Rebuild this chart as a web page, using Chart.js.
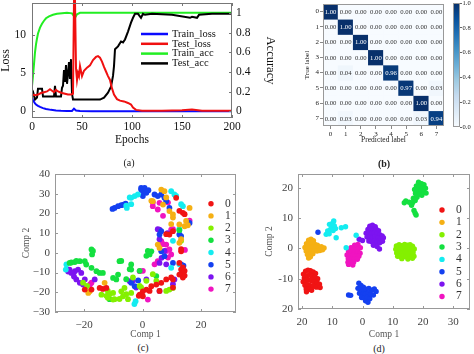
<!DOCTYPE html>
<html>
<head>
<meta charset="utf-8">
<script src="https://cdn.jsdelivr.net/npm/chart.js@4.4.1/dist/chart.umd.min.js"></script>
<style>
  html, body { margin: 0; padding: 0; background: #fff; }
  #wrap { position: relative; width: 474px; height: 354px; overflow: hidden; }
  canvas { position: absolute; }
  .cap { position: absolute; font: 10px "Liberation Serif", serif; color: #222; transform: translate(-50%, -50%); white-space: nowrap; }
</style>
</head>
<body>
<div id="wrap">
  <canvas id="lossChart" width="290" height="150" style="left:0px;top:0px"></canvas>
  <canvas id="cmChart" width="152" height="150" style="left:296px;top:0px"></canvas>
  <canvas id="cbChart" width="26" height="135" style="left:448px;top:0px"></canvas>
  <canvas id="tsneC" width="240" height="175" style="left:0px;top:165px"></canvas>
  <canvas id="tsneD" width="234" height="175" style="left:240px;top:165px"></canvas>
  <div class="cap" style="left:129px;top:162px">(a)</div>
  <div class="cap" style="left:384px;top:163px;font-weight:bold">(b)</div>
  <div class="cap" style="left:143px;top:347px">(c)</div>
  <div class="cap" style="left:379px;top:348px">(d)</div>
</div>
<script>
// ---- (a) training curves ----
const trainLossEp = [0,1,2,3,4,6,8,11,14,19,24,29,35,40,42,44,48,60,100,150,200];
const trainLoss   = [1.8,1.5,1.25,1.05,0.9,0.72,0.58,0.43,0.32,0.2,0.13,0.09,0.06,0.05,0.35,0.12,0.05,0.03,0.02,0.02,0.02];
const testLossEp  = [0,3,6,9,12,15,18,20,22,24,26,28,30,33,36,39,41,42,43,44,45,46,47,48,50,52,55,58,61,64,66,68,70,72,74,76,78,80,82,85,88,92,96,99,101,104,110,130,150,160,170,200];
const testLoss    = [2.2,2.1,2.2,2.4,2.5,2.6,2.9,2.7,2.5,2.8,2.6,2.5,2.4,2.3,2.2,2.2,2.3,14.5,14.5,5.6,4.1,5.0,4.6,5.9,4.6,5.3,5.7,6.0,6.7,7.1,7.2,7.0,6.5,5.8,5.2,4.6,4.1,3.0,2.2,1.6,1.4,1.3,1.1,0.9,0.5,0.2,0.1,0.1,0.15,0.25,0.1,0.1];
const trainAccEp  = [0,1,2,3,4,5,6,8,10,12,14,17,21,25,30,35,40,42,43,45,48,60,100,150,200];
const trainAcc    = [0.26,0.36,0.48,0.6,0.68,0.74,0.79,0.85,0.89,0.92,0.945,0.965,0.98,0.99,0.995,1.0,0.995,0.965,0.95,0.985,1.0,1.0,1.0,1.0,1.0];
const testAccEp   = [0,1,3,5,6,10,11,13,22,23,24,25,29,30,31,32,33,34,35,36,37,38,39,40,41,42,68,72,76,79,81,82,83,86,89,91,93,96,99,101,103,106,109,111,113,120,140,158,160,165,167,180,200];
const testAcc     = [0.22,0.2,0.12,0.14,0.23,0.23,0.15,0.15,0.15,0.26,0.15,0.15,0.15,0.24,0.26,0.42,0.3,0.47,0.28,0.38,0.5,0.33,0.53,0.18,0.12,0.12,0.12,0.14,0.19,0.25,0.36,0.46,0.63,0.66,0.71,0.7,0.73,0.81,0.9,0.95,0.99,0.99,0.95,0.99,0.98,0.99,0.98,0.95,0.96,0.95,0.98,0.99,0.99];
const epochTicks  = [0,50,100,150,200];
const lossTicks   = [0,5,10];
const accTicks    = [0,0.2,0.4,0.6,0.8,1];

// ---- (b) confusion matrix ----
const predLabels = ['0','1','2','3','4','5','6','7'];
const trueLabels = ['0','1','2','3','4','5','6','7'];
const cmRow0 = [1.00,0,0,0,0,0,0,0];
const cmRow1 = [0,1.00,0,0,0,0,0,0];
const cmRow2 = [0,0,1.00,0,0,0,0,0];
const cmRow3 = [0,0,0,1.00,0,0,0,0];
const cmRow4 = [0,0.04,0,0,0.96,0,0,0];
const cmRow5 = [0,0,0,0,0,0.97,0,0.03];
const cmRow6 = [0,0,0,0,0,0,1.00,0];
const cmRow7 = [0,0.03,0,0,0,0,0.03,0.94];
const colorbarTicks = [0,0.2,0.4,0.6,0.8,1.0];

// ---- (c) / (d) feature embeddings ----
const classLabels = ['0','1','2','3','4','5','6','7'];
const classColors = ['#f01414','#f5b014','#84f000','#14e040','#14ecf0','#1440f0','#7c14f0','#f014c0'];

const tsneC0 = [[11.5,27.9],[13.8,20.3],[12.6,21.3],[14.4,19.6],[9.2,9.3],[10.4,11],[8.1,9.5],[13.2,0.8],[13.2,1.9],[12.6,-5.1],[13.2,-8.5],[13.8,-10.2],[12.6,-11],[14.4,-9.1],[13.8,-7.4],[13.8,-12.5],[10.4,-13.5],[8.1,-13.5],[6.4,-15.2],[4.7,-16.1],[3,-16.9],[1.3,-18.6],[0.1,-19.5],[-1,-21.2],[0.1,-22],[-1.3,-21.8],[2.4,-19.3],[10.4,-17.6],[5.8,-19.3],[-14.7,-17.8],[-13.6,-18.3],[-12.4,-17.8],[-19.8,-18.6],[-17.5,-18.6],[9.8,-12.5],[14.4,-11.5]];
const tsneC1 = [[6.4,32.1],[7.5,31.3],[3.5,26.2],[7,24.5],[9.2,21.2],[10.4,19.5],[12.6,14.4],[14.4,13.5],[16.1,22.8],[12.6,5.1],[5.2,4.2],[5.8,2.5],[8.1,28.1],[9.8,14.6],[14.9,16.2],[10.4,17.9],[13.2,6.9],[-13,-15.2],[-18.1,-19.5],[-18.6,-20.3],[15.5,14],[3,26.4]];
const tsneC2 = [[-14.1,-21.2],[-11.9,-22.8],[-10.1,-23.7],[-7.9,-23.4],[-6.7,-22],[-7.3,-19.5],[-6.2,-17.8],[-10.1,-20.3],[-3.9,-20.3],[-12.4,-21.8],[-11.3,-21],[-9.6,-23.5],[-5,-23.5],[-3.3,-12.5],[-1,-16.8],[1.3,-14.2],[3.5,-10.8],[4.7,-14.2],[8.1,-19.3],[9.2,-18.6],[10.4,-17.8],[13.2,6.1],[-20.4,-15.1],[-5.6,-21],[-11.9,-19.3],[-19,-16.8],[-0.5,-17.5]];
const tsneC3 = [[-17.5,1.7],[-17.3,-0.8],[-17,1],[-25,-5.1],[-23.2,-4.7],[-21.5,-4.2],[-19.8,-4.2],[-19.3,-5.9],[-17.5,-7.6],[-15.8,-9.3],[-14.7,-10.2],[-13.6,-10.2],[-7.9,-4.2],[-7.3,-4.1],[-3.9,-5.9],[-3.9,-8.5],[-10.1,-12.7],[-9,-13.5],[-8.4,-11],[-4.4,-8.3],[1.8,1],[1.3,-1.5],[2.4,-0.8],[3,0.8],[-1,-9.1],[-5.6,-13.4],[4.7,-11.8],[-11.3,-23.5],[-22.7,-4.1],[-24.4,-4.9],[12.6,11.5]];
const tsneC4 = [[-5.4,22.8],[-3.9,27.9],[-2.7,28.8],[-1.6,29.6],[-4.4,28.1],[-5.6,23.9],[-3.9,24.7],[9.8,31.3],[10.9,29.6],[13.8,23.7],[13.2,24.7],[10.4,6.1],[9.8,-7.6],[12.6,12],[-26.1,-5.9],[-26.3,-8.5],[-2.4,-24.5],[-2.8,-26],[12.6,-5.8],[11.5,28.9]];
const tsneC5 = [[-9.6,22.8],[-8.4,23.7],[-7.3,24.2],[-6.5,24.5],[-5.8,25],[-10.3,22.3],[-0.5,33],[0.1,31.3],[-0.5,32.1],[0.7,33],[1.3,30.5],[0.1,28.8],[4.1,29.6],[5.2,28.8],[6.4,29.6],[7.5,27.9],[8.1,26.2],[9.2,22.8],[6.4,11],[5.8,9.3],[12.6,9.3],[13.2,8.5],[16.1,15.2],[10.4,-5.1],[13.2,-5.9],[6.4,0.8],[7.5,-1.7],[-3.9,-15.2],[-2.7,-16.9],[-1.5,-14],[14,-6.5],[2,31.8]];
const tsneC6 = [[-25,-8.5],[-23.2,-9.3],[-22.1,-8.5],[-21,-10.2],[-24.4,-10.2],[-22.7,-13.5],[-21.5,-15.2],[-20.4,-16.1],[-19.8,-13.5],[-16.4,-13.5],[-23.5,-12],[-25.5,-9.5],[-3.3,-14.2],[-2.2,-17.6],[-4.4,-14.4],[5.8,11.8],[5.2,12],[5.8,6.9],[5.8,-5.1],[7.5,1],[8.1,-5.8],[10.9,-13.5],[5.8,-19.3],[1.3,-13.5],[10.4,-15.9],[6.5,-2.5],[8.5,10]];
const tsneC7 = [[3.5,23.7],[5.2,22],[5.8,25.4],[3.5,25.5],[8.7,25.5],[9.8,11.8],[6.4,5.9],[8.1,4.2],[9.2,1.7],[9.8,-0.8],[5.2,-4.2],[4.1,-5.8],[-1,-9.3],[0.1,-9.1],[1.8,-23.7],[16.1,16.4],[7,18.8],[10.4,12],[-17.5,-15.1],[-18,-16],[7,4.4],[8.1,1],[8.7,-2.4],[14.5,1.5]];
const tsneCTicksX = [-20,0,20];
const tsneCTicksY = [-30,-20,-10,0,10,20,30,40];

const tsneD0 = [[-19.5,-8.5],[-18.8,-7.5],[-18,-7.2],[-17.2,-7.4],[-16.3,-7.8],[-15.5,-8.3],[-19.2,-9.8],[-18.3,-9],[-17.4,-8.8],[-16.6,-9.2],[-15.7,-9.6],[-14.8,-10],[-19.6,-11],[-18.7,-10.6],[-17.8,-10.4],[-16.9,-10.6],[-16,-11],[-15,-11.4],[-14.2,-11.8],[-19,-12.2],[-18,-12],[-17.2,-12.3],[-16.3,-12.5],[-15.2,-12.8],[-18.6,-13.4],[-17.6,-13.5],[-18.5,-14.3],[-14,-12.9],[-16.8,-13.8]];
const tsneD1 = [[-17.8,2.7],[-17,3],[-16.2,2.5],[-18.5,1.5],[-17.6,1.6],[-16.7,1.5],[-15.8,1.4],[-14.9,1],[-19,0.3],[-18.1,0.4],[-17.2,0.3],[-16.3,0.4],[-15.4,0.3],[-14.5,0.2],[-13.6,0.5],[-12.7,0.1],[-18.6,-0.9],[-17.7,-0.8],[-16.8,-0.9],[-15.9,-0.8],[-15,-0.9],[-14.1,-0.7],[-13.2,-0.5],[-18.2,-2],[-17.3,-1.9],[-16.4,-1.8],[-17.8,-3.2],[-17.2,-2.8]];
const tsneD2 = [[11.2,0.8],[12.1,1.2],[13,0.9],[13.9,1.3],[14.8,1],[15.7,1.2],[16.5,0.7],[11,-0.3],[11.9,-0.2],[12.8,-0.4],[13.7,-0.2],[14.6,-0.3],[15.5,-0.1],[16.4,-0.4],[17.1,-0.2],[11.3,-1.5],[12.2,-1.4],[13.1,-1.6],[14,-1.4],[14.9,-1.5],[15.8,-1.6],[16.7,-1.4],[11.6,-2.6],[12.5,-2.7],[13.4,-2.5],[14.3,-2.8],[15.2,-2.6],[16.1,-2.9],[17,-2.6],[13,-3.4],[15,-3.5],[16.5,-3.3]];
const tsneD3 = [[18.5,21.8],[19.5,21.3],[20.3,21],[17.8,20.6],[18.8,20.3],[19.8,20],[20.8,19.8],[17.2,19.4],[18.2,19.2],[19.2,18.9],[20.2,18.6],[21,18.2],[17.5,18.1],[18.6,17.8],[19.6,17.5],[18,16.8],[16.8,16.5],[17.4,15.8],[16.6,15.1],[15.4,15.2],[14.3,15.6],[13.8,15],[16.2,14.2],[17,12.5],[17.4,11.6],[17.7,11]];
const tsneD4 = [[-10.9,7.9],[-9.8,8.4],[-10.2,7.2],[-9.3,7.4],[-8.9,6.5],[-10.6,6.2],[-11.5,5.7],[-9.7,5.9],[-12,4.6],[-11,4.8],[-8.7,3.5],[-7,6.8],[-5.6,7.1],[-2.1,4.3],[-5.4,0.2],[-9.5,9]];
const tsneD5 = [[-1.2,-11.5],[-0.5,-12.2],[0.3,-12.8],[-1.5,-13.2],[-0.6,-13.6],[0.3,-14],[1.2,-13.5],[2.1,-13.2],[3,-13.8],[3.9,-13.4],[4.5,-14.2],[-1,-14.8],[0,-15.2],[0.9,-15],[1.8,-14.8],[2.7,-15.2],[3.6,-15.4],[-0.3,-16.2],[0.6,-16.4],[1.5,-16.2],[2.4,-16.6],[1,-17.3],[1.8,-17.8],[-4.6,-15.4],[-3.9,-15.5],[-14.7,5.3]];
const tsneD6 = [[2.4,7.3],[3.3,7.6],[4.2,7.1],[1.8,6.2],[2.7,6.4],[3.6,6.1],[4.5,6.3],[5.3,5.8],[1.2,5],[2.1,5.2],[3,4.9],[3.9,5.1],[4.8,4.8],[5.7,4.5],[6.5,4.1],[1.5,3.7],[2.4,3.8],[3.3,3.5],[4.2,3.7],[5.1,3.4],[6,3.2],[6.9,3.5],[2.1,2.4],[3,2.2],[3.9,2.5],[4.8,2.1],[5.7,1.8],[6.6,2.3],[3.6,1],[4.8,0.6],[5.6,-0.2],[0,2.6],[-1.1,3]];
const tsneD7 = [[-1.5,1.3],[-2.6,1],[-0.7,0.2],[-3.8,0.2],[-2.8,-0.3],[-1.8,-0.4],[-4.6,-1],[-3.6,-1.2],[-2.6,-1.3],[-1.6,-1.1],[-0.8,-1.6],[-5.1,-2.2],[-4.1,-2.4],[-3.1,-2.3],[-2.1,-2.5],[-1.2,-2.6],[-4.7,-3.4],[-3.7,-3.5],[-2.7,-3.4],[-1.7,-3.6],[-4.8,-4.6],[-3.8,-4.7],[-2.9,-4.5],[-4.6,-5.3],[-3.2,-5.5]];
const tsneDTicksX = [-20,-10,0,10,20,30];
const tsneDTickTextX = ['20','10','0','10','20','30'];
const tsneDTicksY = [-20,-10,0,10,20];
const tsneDTickTextY = ['20','-10','0','10','20'];

Chart.defaults.font.family = '"Liberation Serif", "Times New Roman", serif';
Chart.defaults.color = '#111';
Chart.defaults.animation = false;

const BLUES = ['#f7fbff','#deebf7','#c6dbef','#9ecae1','#6baed6','#4292c6','#2171b5','#08519c','#08306b'];
function blues(v) {
  const t = Math.max(0, Math.min(1, v)) * 8;
  const i = Math.min(7, Math.floor(t)), f = t - i;
  const a = BLUES[i], b = BLUES[i + 1];
  const ch = k => Math.round(parseInt(a.substr(k, 2), 16) * (1 - f) + parseInt(b.substr(k, 2), 16) * f);
  return `rgb(${ch(1)},${ch(3)},${ch(5)})`;
}

// fixed axis box size, no extra edge padding
const fitBox = n => s => {
  if (s.isHorizontal()) s.height = n; else s.width = n;
  s.paddingTop = s.paddingBottom = s.paddingLeft = s.paddingRight = 0;
};
const setTicks = arr => s => { s.ticks = arr.map(v => ({ value: v })); };
const xy = (xs, ys) => xs.map((x, i) => ({ x, y: ys[i] }));
const pts = arr => arr.map(p => ({ x: p[0], y: p[1] }));
const minus = v => (v < 0 ? '\u2212' + Math.abs(v) : String(v));

// box around the plot plus inward tick marks
const frame = {
  id: 'frame',
  afterDraw(chart, args, o) {
    const { ctx, chartArea: a } = chart;
    ctx.save();
    ctx.strokeStyle = o.color || '#777';
    ctx.lineWidth = 1;
    ctx.strokeRect(a.left + 0.5, a.top + 0.5, a.width - 1, a.height - 1);
    if (o.len) {
      ctx.beginPath();
      Object.values(chart.scales).forEach(s => {
        s.ticks.forEach(t => {
          const p = Math.round(s.getPixelForValue(t.value)) + 0.5;
          if (s.isHorizontal()) {
            ctx.moveTo(p, a.bottom); ctx.lineTo(p, a.bottom - o.len);
            if (o.mirrorX) { ctx.moveTo(p, a.top); ctx.lineTo(p, a.top + o.len); }
          } else if (s.position === 'left') {
            ctx.moveTo(a.left, p); ctx.lineTo(a.left + o.len, p);
            if (o.mirrorY) { ctx.moveTo(a.right, p); ctx.lineTo(a.right - o.len, p); }
          } else {
            ctx.moveTo(a.right, p); ctx.lineTo(a.right - o.len, p);
          }
        });
      });
      ctx.stroke();
    }
    ctx.restore();
  }
};

// legend drawn inside the plot at a fixed spot
const keyLegend = {
  id: 'keyLegend',
  afterDraw(chart, args, o) {
    const { ctx } = chart;
    ctx.save();
    ctx.font = o.font;
    ctx.textBaseline = 'middle';
    chart.data.datasets.forEach((ds, i) => {
      const y = o.y + i * o.dy;
      if (o.mode === 'line') {
        ctx.strokeStyle = ds.borderColor; ctx.lineWidth = 2.5;
        ctx.beginPath(); ctx.moveTo(o.x, y); ctx.lineTo(o.x + o.len, y); ctx.stroke();
      } else {
        ctx.fillStyle = ds.backgroundColor;
        ctx.beginPath(); ctx.arc(o.x, y, o.r, 0, Math.PI * 2); ctx.fill();
      }
      ctx.fillStyle = o.color;
      ctx.fillText(ds.label, o.x + o.gap, y);
    });
    ctx.restore();
  }
};

// numbers inside the confusion matrix cells
const cellText = {
  id: 'cellText',
  afterDatasetsDraw(chart) {
    const { ctx } = chart;
    ctx.save();
    ctx.font = '6.7px "Liberation Serif", serif';
    ctx.textAlign = 'center';
    ctx.textBaseline = 'middle';
    chart.data.datasets.forEach((ds, i) => {
      chart.getDatasetMeta(i).data.forEach((bar, j) => {
        const v = ds.cm[j];
        ctx.fillStyle = v > 0.5 ? '#fff' : '#333';
        ctx.fillText(v.toFixed(2), bar.x, (bar.y + bar.base) / 2 + 0.5);
      });
    });
    ctx.restore();
  }
};

// (a)
new Chart(document.getElementById('lossChart'), {
  type: 'line',
  data: {
    datasets: [
      { label: 'Train_loss', data: xy(trainLossEp, trainLoss), borderColor: '#0a0aff', yAxisID: 'y', order: 1 },
      { label: 'Test_loss', data: xy(testLossEp, testLoss), borderColor: '#f01010', yAxisID: 'y', order: 0, clip: false },
      { label: 'Train_acc', data: xy(trainAccEp, trainAcc), borderColor: '#22ee22', yAxisID: 'y1', order: 3 },
      { label: 'Test_acc', data: xy(testAccEp, testAcc), borderColor: '#000', yAxisID: 'y1', order: 2 }
    ]
  },
  options: {
    responsive: false,
    elements: { point: { radius: 0 }, line: { borderWidth: 2, tension: 0 } },
    layout: { padding: { top: 3 } },
    scales: {
      x: {
        type: 'linear', min: 0, max: 200,
        afterBuildTicks: setTicks(epochTicks), afterFit: fitBox(32),
        grid: { display: false, drawTicks: false }, border: { display: false },
        ticks: { padding: 2, font: { size: 11.5 } },
        title: { display: true, text: 'Epochs', font: { size: 11.5, lineHeight: 1 }, padding: { top: 0, bottom: 4 } }
      },
      y: {
        position: 'left', min: -0.86, max: 14.13,
        afterBuildTicks: setTicks(lossTicks), afterFit: fitBox(32),
        grid: { display: false, drawTicks: false }, border: { display: false },
        ticks: { padding: 6, font: { size: 11.5 } },
        title: { display: true, text: 'Loss', font: { size: 12, lineHeight: 1 }, padding: { top: 0, bottom: 0 } }
      },
      y1: {
        position: 'right', min: -0.067, max: 1.10,
        afterBuildTicks: setTicks(accTicks), afterFit: fitBox(58),
        grid: { display: false, drawTicks: false }, border: { display: false },
        ticks: { padding: 4, font: { size: 11.5 }, callback: v => String(+v.toFixed(1)) },
        title: { display: true, text: 'Accuracy', font: { size: 12.5, lineHeight: 1 }, padding: { top: 13, bottom: 0 } }
      }
    },
    plugins: {
      legend: { display: false }, tooltip: { enabled: false },
      frame: { color: '#777', len: 3, mirrorX: true },
      keyLegend: { mode: 'line', x: 141, y: 34, dy: 9.8, len: 27, gap: 31, font: '10.5px "Liberation Serif", serif', color: '#111' }
    }
  },
  plugins: [frame, keyLegend]
});

// (b) confusion matrix as stacked unit bars coloured by value
const cmRows = [cmRow0, cmRow1, cmRow2, cmRow3, cmRow4, cmRow5, cmRow6, cmRow7];
new Chart(document.getElementById('cmChart'), {
  type: 'bar',
  data: {
    labels: predLabels,
    datasets: cmRows.map((row, i) => ({
      label: trueLabels[i], cm: row, data: row.map(() => 1),
      backgroundColor: row.map(blues), borderWidth: 0, barPercentage: 1, categoryPercentage: 1
    }))
  },
  options: {
    responsive: false,
    layout: { padding: { top: 4, right: 4 } },
    scales: {
      x: {
        stacked: true, afterFit: fitBox(24),
        grid: { drawOnChartArea: false, offset: false, tickLength: 3, color: '#888' }, border: { display: false },
        ticks: { padding: 1, font: { size: 7 }, color: '#222' },
        title: { display: true, text: 'Predicted label', font: { size: 7.5, lineHeight: 1 }, color: '#222', padding: { top: 0, bottom: 6 } }
      },
      y: {
        stacked: true, min: 0, max: 8, reverse: true,
        afterBuildTicks: s => { s.ticks = trueLabels.map((_, i) => ({ value: i + 0.5 })); },
        afterFit: fitBox(27),
        grid: { drawOnChartArea: false, tickLength: 3, color: '#888' }, border: { display: false },
        ticks: { padding: 1, font: { size: 7 }, color: '#222', callback: v => trueLabels[Math.floor(v)] },
        title: { display: true, text: 'True label', font: { size: 7, lineHeight: 1 }, color: '#222', padding: { top: 8, bottom: 0 } }
      }
    },
    plugins: { legend: { display: false }, tooltip: { enabled: false }, frame: { color: '#999' } }
  },
  plugins: [cellText, frame]
});

// colour bar
new Chart(document.getElementById('cbChart'), {
  type: 'bar',
  data: {
    labels: [''],
    datasets: [{
      data: [colorbarTicks[colorbarTicks.length - 1]], borderWidth: 0, barPercentage: 1, categoryPercentage: 1,
      backgroundColor: c => {
        const a = c.chart.chartArea;
        if (!a) return BLUES[4];
        const g = c.chart.ctx.createLinearGradient(0, a.bottom, 0, a.top);
        BLUES.forEach((col, i) => g.addColorStop(i / (BLUES.length - 1), col));
        return g;
      }
    }]
  },
  options: {
    responsive: false,
    layout: { padding: { top: 3, left: 5, bottom: 8 } },
    scales: {
      x: { display: false },
      y: {
        position: 'right', min: 0, max: 1,
        afterBuildTicks: setTicks(colorbarTicks), afterFit: fitBox(14),
        grid: { drawOnChartArea: false, tickLength: 2, color: '#666' }, border: { display: false },
        ticks: { padding: 0.5, font: { size: 6.5 }, color: '#222', callback: v => v.toFixed(1) }
      }
    },
    plugins: { legend: { display: false }, tooltip: { enabled: false }, frame: { color: '#999' } }
  },
  plugins: [frame]
});

// shared scatter set-up for (c) and (d)
function tsneChart(id, sets, o) {
  new Chart(document.getElementById(id), {
    type: 'scatter',
    data: {
      datasets: sets.map((s, i) => ({
        label: classLabels[i], data: pts(s), backgroundColor: classColors[i],
        borderWidth: 0, pointRadius: o.r
      }))
    },
    options: {
      responsive: false,
      layout: { padding: { top: 9, right: o.right } },
      scales: {
        x: {
          min: o.xMin, max: o.xMax,
          afterBuildTicks: setTicks(o.xTicks), afterFit: fitBox(o.xH),
          grid: { display: false, drawTicks: false }, border: { display: false },
          ticks: { padding: 7, color: '#444', font: { size: 11 }, callback: o.xFmt },
          title: { display: true, text: 'Comp 1', color: '#555', font: { size: 9.5, lineHeight: 1 }, padding: { top: 0, bottom: 1.2 } }
        },
        y: {
          min: o.yMin, max: o.yMax,
          afterBuildTicks: setTicks(o.yTicks), afterFit: fitBox(o.yW),
          grid: { display: false, drawTicks: false }, border: { display: false },
          ticks: { padding: 5, color: '#444', font: { size: 11 }, callback: o.yFmt },
          title: { display: true, text: 'Comp 2', color: '#555', font: { size: 9.5, lineHeight: 1 }, padding: { top: o.yTitlePad, bottom: 0 } }
        }
      },
      plugins: {
        legend: { display: false }, tooltip: { enabled: false },
        frame: { color: '#999', len: 3, mirrorX: true, mirrorY: true },
        keyLegend: { mode: 'dot', x: o.legX, y: o.legY, dy: o.legDy, r: 2.7, gap: 14, font: '11.5px "Liberation Serif", serif', color: '#333' }
      }
    },
    plugins: [frame, keyLegend]
  });
}

tsneChart('tsneC', [tsneC0, tsneC1, tsneC2, tsneC3, tsneC4, tsneC5, tsneC6, tsneC7], {
  xMin: -30, xMax: 32, yMin: -30, yMax: 40, xTicks: tsneCTicksX, yTicks: tsneCTicksY,
  xFmt: minus, yFmt: minus, xH: 28, yW: 55, right: 3, yTitlePad: 22, r: 2.9,
  legX: 211, legY: 38.7, legDy: 12.2
});

tsneChart('tsneD', [tsneD0, tsneD1, tsneD2, tsneD3, tsneD4, tsneD5, tsneD6, tsneD7], {
  xMin: -21.3, xMax: 35.5, yMin: -20, yMax: 24.5, xTicks: tsneDTicksX, yTicks: tsneDTicksY,
  xFmt: (v, i) => tsneDTickTextX[i], yFmt: (v, i) => tsneDTickTextY[i],
  xH: 31, yW: 58, right: 3.4, yTitlePad: 25, r: 2.7,
  legX: 202, legY: 45, legDy: 12.35
});
</script>
</body>
</html>
